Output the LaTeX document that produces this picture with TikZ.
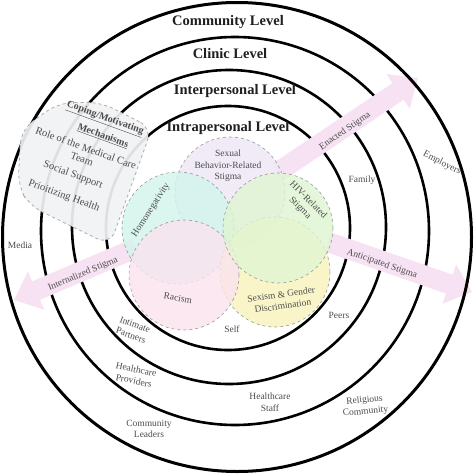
\documentclass[tikz,border=0pt]{standalone}
\usepackage{fontspec}
\setmainfont{Liberation Serif}
\usetikzlibrary{arrows.meta}
\definecolor{arrowpink}{HTML}{F6E2F3}
\definecolor{lav}{HTML}{EDE7F6}
\definecolor{mint}{HTML}{D2F4EC}
\definecolor{lgreen}{HTML}{DFF5D2}
\definecolor{lpink}{HTML}{FBE3EE}
\definecolor{lyellow}{HTML}{F8F3BC}
\definecolor{boxgrey}{HTML}{F1F2F4}
\definecolor{labelgrey}{HTML}{4D4D4D}
\begin{document}
\begin{tikzpicture}[x=1pt,y=-1pt,
 ring/.style={draw=black, line width=2.6pt},
 outerring/.style={draw=black, line width=3pt},
 stigarrow/.style={draw=arrowpink, line width=20pt, -{Triangle[length=24pt,width=40pt]}},
 venn/.style={draw=gray!80, dashed, line width=0.6pt, fill opacity=0.8},
 level/.style={font=\fontsize{14.5}{16}\selectfont\bfseries, text=black!88},
 lab/.style={font=\fontsize{9.5}{11.5}\selectfont, text=labelgrey, align=center},
 coptext/.style={font=\fontsize{10.5}{12}\selectfont, text=labelgrey, rotate=-20, inner sep=1pt},
 coptitle/.style={font=\fontsize{10}{12}\selectfont\bfseries, text=labelgrey, rotate=-20, inner sep=1pt},
 copingbox/.style={draw=gray!65, dashed, line width=0.8pt, fill=boxgrey, fill opacity=0.92, rounded corners=14pt}
]
\fill[white] (0,0) rectangle (474,474);
\useasboundingbox (0,0) rectangle (474,474);

% rings
\draw[ring] (235,231) circle[radius=194];
\draw[ring] (229,227) circle[radius=157];
\draw[ring] (228,228) circle[radius=122];

% stigma arrows
\coordinate (enS) at (278,172); \coordinate (enE) at (418,78);
\coordinate (anS) at (328,242); \coordinate (anE) at (472,292);
\coordinate (inS) at (136,248); \coordinate (inE) at (14,300);
\draw[stigarrow] (enS) -- (enE);
\draw[stigarrow] (anS) -- (anE);
\draw[stigarrow] (inS) -- (inE);

% outer ring
\draw[outerring] (237,237) circle[radius=234.5];

% coping box
\draw[copingbox] (152,128) -- (100,102) -- (58,103) -- (21,130) -- (18,186) -- (30,206) -- (110,245) -- cycle;

% Venn circles
\draw[venn, fill=lav] (230,192) circle[radius=55];
\draw[venn, fill=mint] (178,228) circle[radius=56];
\draw[venn, fill=lyellow] (275,272) circle[radius=55];
\draw[venn, fill=lpink] (184,275) circle[radius=55];
\draw[venn, fill=lgreen] (278,228) circle[radius=55];

% level labels
\node[level] (comm) at (228,22) {Community Level};
\node[level] (clin) at (230,54) {Clinic Level};
\node[level] (inter) at (235,91) {Interpersonal Level};
\node[level] (intra) at (228,128) {Intrapersonal Level};

% Venn labels
\node[lab] (sexual) at (228,166) {Sexual\\Behavior-Related\\Stigma};
\node[lab, rotate=57] (homo) at (151,210) {Homonegativity};
\node[lab, rotate=-45] (hiv) at (304,204) {HIV-Related\\Stigma};
\node[lab, rotate=-10] (racism) at (178,298) {Racism};
\node[lab, rotate=8] (sexism) at (282,300) {Sexism \& Gender\\Discrimination};

% arrow labels
\node[lab, rotate=35] (enl) at (345,131) {Enacted Stigma};
\node[lab, rotate=-19] (anl) at (382,264) {Anticipated Stigma};
\node[lab, rotate=23] (inl) at (83,274) {Internalized Stigma};

% actor labels
\node[lab] (media) at (20,245) {Media};
\node[lab, rotate=-27] (employers) at (442,163) {Employers};
\node[lab] (family) at (362,180) {Family};
\node[lab] (peers) at (339,315) {Peers};
\node[lab] (self) at (232,329) {Self};
\node[lab, rotate=-20] (intimate) at (133,330) {Intimate\\Partners};
\node[lab, rotate=-12] (hcprov) at (135,375) {Healthcare\\Providers};
\node[lab] (leaders) at (149,429) {Community\\Leaders};
\node[lab] (hcstaff) at (270,402) {Healthcare\\Staff};
\node[lab, rotate=5] (relig) at (365,406) {Religious\\Community};

% coping texts
\node[coptitle] (cop1) at (105,119) {\underline{Coping/Motivating}};
\node[coptitle] (cop2) at (103,136) {\underline{Mechanisms}};
\node[coptext] (cop3) at (86,148) {Role of the Medical Care};
\node[coptext] (cop4) at (82,159) {Team};
\node[coptext] (cop5) at (73,175) {Social Support};
\node[coptext] (cop6) at (64,196) {Prioitizing Health};
\end{tikzpicture}
\end{document}
